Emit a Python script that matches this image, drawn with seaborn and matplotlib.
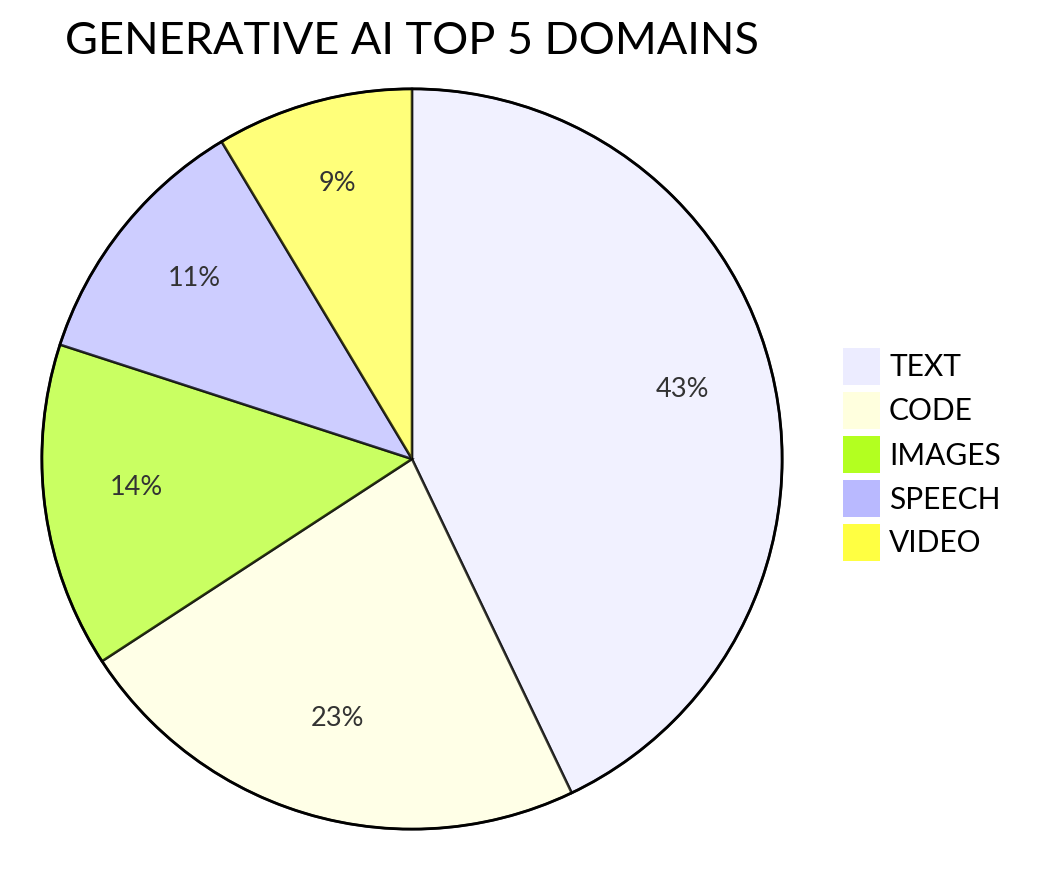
import matplotlib
matplotlib.use("Agg")
import matplotlib.pyplot as plt
import matplotlib.transforms as mtransforms
from matplotlib.patches import Rectangle
import seaborn as sns

title = "GENERATIVE AI TOP 5 DOMAINS"
categories = ["TEXT", "CODE", "IMAGES", "SPEECH", "VIDEO"]
values = [42.9, 22.9, 14.2, 11.4, 8.6]
colors = ["#ECECFF", "#FFFFDE", "#B3FF20", "#B9B9FF", "#FFFF42"]

sns.set_theme(style="white")
plt.rcParams["font.family"] = ["Lato", "DejaVu Sans"]

W, H = 1044, 880
fig = plt.figure(figsize=(W / 100, H / 100), dpi=100)
fig.patch.set_facecolor("white")

cx, cy, r = 412, 459, 372
ax = fig.add_axes([(cx - r) / W, (H - cy - r) / H, 2 * r / W, 2 * r / H])

wedges, texts, autotexts = ax.pie(
    values, colors=colors, startangle=90, counterclock=False, radius=0.995,
    autopct=lambda p: f"{p:.0f}%", pctdistance=0.75,
    wedgeprops=dict(edgecolor="black", linewidth=1.8, alpha=0.7),
    textprops=dict(fontsize=19.5, color="#333333"))
for w in wedges:
    w.set_edgecolor((0, 0, 0, 1))
shift = mtransforms.offset_copy(ax.transData, fig=fig, x=0, y=8, units="dots")
for t in autotexts:
    t.set_transform(shift)
circle = plt.Circle((0, 0), 0.995, fill=False, edgecolor="black", linewidth=2.0)
ax.add_patch(circle)
ax.set_xlim(-1, 1)
ax.set_ylim(-1, 1)
ax.set_aspect("equal")
ax.axis("off")

fig.text(cx / W, 1 - 42 / H, title, ha="center", va="center", fontsize=32.5, color="black")

# legend
x0, y0, size, step = 843, 348, 37, 44
for i, (lab, col) in enumerate(zip(categories, colors)):
    top = y0 + i * step
    fig.patches.append(Rectangle((x0 / W, 1 - (top + size) / H), size / W, size / H,
                                 transform=fig.transFigure, facecolor=col, edgecolor="none"))
    fig.text(889 / W, 1 - (top + size / 2 + 1) / H, lab, ha="left", va="center",
             fontsize=21.5, color="black")

fig.savefig("out.png", dpi=100)
